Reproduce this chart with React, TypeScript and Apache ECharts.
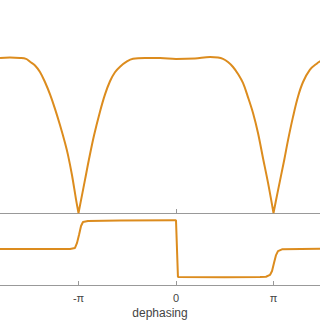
import React, { useEffect, useRef } from "react";
import * as echarts from "echarts";

// x values are in units of π
const topX = [-1.805, -1.703, -1.6, -1.538, -1.497, -1.446, -1.395, -1.344, -1.292, -1.241, -1.19, -1.138, -1.108, -1.067, -1.026, -1.0,
  -0.964, -0.933, -0.894, -0.841, -0.779, -0.728, -0.677, -0.626, -0.574, -0.503, -0.441, -0.318, -0.164, 0, 0.195, 0.349, 0.431, 0.482,
  0.533, 0.585, 0.636, 0.687, 0.738, 0.79, 0.841, 0.892, 0.944, 1.0, 1.041, 1.11, 1.149, 1.2, 1.251, 1.303, 1.374, 1.446, 1.497];
const topY = [1.0, 1.003, 1.0, 0.994, 0.976, 0.952, 0.91, 0.845, 0.765, 0.672, 0.568, 0.452, 0.375, 0.245, 0.09, 0,
  0.115, 0.215, 0.342, 0.5, 0.655, 0.765, 0.85, 0.908, 0.944, 0.978, 0.995, 1.0, 1.0, 0.994, 0.997, 1.006, 1.003, 0.994,
  0.974, 0.942, 0.897, 0.839, 0.748, 0.645, 0.516, 0.355, 0.194, 0, 0.13, 0.342, 0.47, 0.62, 0.75, 0.845, 0.925, 0.965, 0.985];

const bottomX = [-1.805, -1.087, -1.036, -1.015, -0.995, -0.974, -0.954, -0.903, -0.574, -0.01, 0.0, 0.02, 0.5, 0.862, 0.923, 0.964,
  0.985, 1.005, 1.026, 1.046, 1.087, 1.497];
const bottomY = [0, 0, 0.03, 0.17, 0.39, 0.64, 0.75, 0.78, 0.79, 0.8, 0.8, -0.78, -0.786, -0.78, -0.77, -0.72,
  -0.61, -0.39, -0.17, -0.06, -0.01, 0.01];

const tickValues = [-1, 0, 1];
const tickLabels = ["-π", "0", "π"];
const xName = "dephasing";

const LINE = "#DC8C1E";
const AXIS = "#999999";

export default function App() {
  const ref = useRef<HTMLDivElement>(null);
  useEffect(() => {
    if (!ref.current) return;
    const chart = echarts.init(ref.current, null, { renderer: "svg" });
    const xMin = -176 / 97.5;
    const xMax = 144 / 97.5;
    const baseX = {
      type: "value" as const,
      min: xMin,
      max: xMax,
      splitLine: { show: false },
      axisLine: { show: true, onZero: false, lineStyle: { color: AXIS, width: 1 } },
      axisTick: { show: true, inside: true, length: 4, customValues: tickValues, lineStyle: { color: AXIS } },
    };
    // break the smoothed curve at each cusp so the dips stay sharp
    const topData: any[] = [];
    topX.forEach((x, i) => {
      topData.push([x, topY[i]]);
      if (topY[i] === 0 && i > 0 && i < topX.length - 1) {
        topData.push([x, "-"]);
        topData.push([x, topY[i]]);
      }
    });
    chart.setOption({
      animation: false,
      grid: [
        { left: 0, right: 0, top: 0, height: 213 },
        { left: 0, right: 0, top: 213, height: 72 },
      ],
      xAxis: [
        { ...baseX, gridIndex: 0, axisLabel: { show: false } },
        {
          ...baseX,
          gridIndex: 1,
          axisLabel: {
            show: true,
            customValues: tickValues,
            margin: 7,
            fontSize: 11,
            color: "#444",
            fontFamily: "Liberation Sans",
            formatter: (v: number) => tickLabels[tickValues.indexOf(Math.round(v))] ?? "",
          },
          name: xName,
          nameLocation: "middle",
          nameGap: 22,
          nameTextStyle: { fontSize: 12, color: "#444", fontFamily: "Liberation Sans" },
        },
      ],
      yAxis: [
        { type: "value", gridIndex: 0, min: 0, max: 213 / 155, show: false },
        { type: "value", gridIndex: 1, min: -1, max: 1, show: false },
      ],
      series: [
        {
          type: "line",
          xAxisIndex: 0,
          yAxisIndex: 0,
          data: topData,
          smooth: 0.35,
          connectNulls: false,
          showSymbol: false,
          lineStyle: { color: LINE, width: 2 },
          clip: false,
        },
        {
          type: "line",
          xAxisIndex: 1,
          yAxisIndex: 1,
          data: bottomX.map((x, i) => [x, bottomY[i]]),
          showSymbol: false,
          lineStyle: { color: LINE, width: 2 },
          clip: false,
        },
      ],
    });
    return () => chart.dispose();
  }, []);
  return (
    <div
      ref={ref}
      style={{ position: "fixed", left: 0, top: 0, width: 320, height: 320, background: "#fff" }}
    />
  );
}
